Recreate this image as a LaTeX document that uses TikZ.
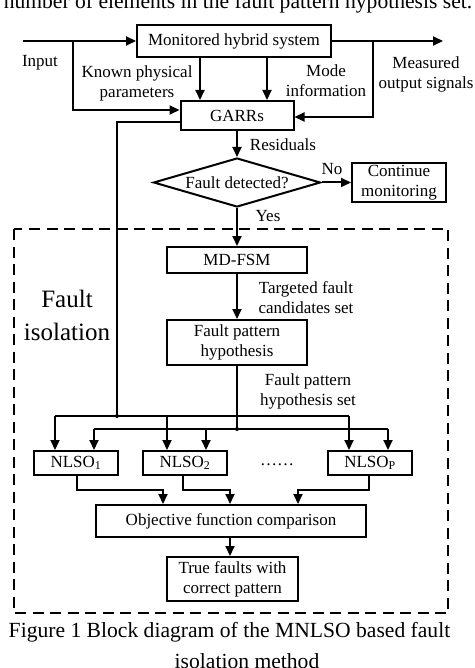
\documentclass[tikz,border=0pt]{standalone}
\usepackage{fontspec}
\setmainfont{Liberation Serif}
\usetikzlibrary{arrows.meta,shapes.geometric,calc}
\begin{document}
\begin{tikzpicture}[x=1pt,y=-1pt,
  every node/.style={font=\fontsize{17}{20}\selectfont, inner sep=0pt},
  box/.style={draw, line width=2pt, align=center},
  ln/.style={line width=2pt},
  arr/.style={line width=2pt, -{Triangle[length=10pt,width=9pt]}},
  lbl/.style={align=center},
  big/.style={font=\fontsize{21.6}{26}\selectfont}]
\useasboundingbox (0,0) rectangle (474,668);
\clip (0,0) rectangle (474,668);

% cut-off caption text at top
\node[big, anchor=base] (toptext) at (238,9) {number of elements in the fault pattern hypothesis set.};

% boxes
\node[box, minimum width=194pt, minimum height=32pt] (mhs) at (234,41) {Monitored hybrid system};
\node[box, minimum width=113pt, minimum height=29pt] (garrs) at (237,115.5) {GARRs};
\node[draw, diamond, aspect=3.4, line width=2pt, minimum width=167pt, minimum height=49pt] (fd) at (237,182.5) {Fault detected?};
\node[box, minimum width=94pt, minimum height=39pt] (cont) at (399,182.5) {Continue\\monitoring};
\node[box, minimum width=140pt, minimum height=26pt] (mdfsm) at (237,260) {MD-FSM};
\node[box, minimum width=140pt, minimum height=45pt] (fph) at (237,342.5) {Fault pattern\\hypothesis};
\node[box, minimum width=84pt, minimum height=24pt] (nlso1) at (76,463) {NLSO\textsubscript{1}};
\node[box, minimum width=84pt, minimum height=24pt] (nlso2) at (185,463) {NLSO\textsubscript{2}};
\node[box, minimum width=84pt, minimum height=24pt] (nlsop) at (370,463) {NLSO\textsubscript{P}};
\node[anchor=base] (dots) at (277,465) {……};
\node[box, minimum width=270pt, minimum height=32pt] (obj) at (231,521) {Objective function comparison};
\node[box, minimum width=131pt, minimum height=44pt] (tf) at (232.5,579) {True faults with\\correct pattern};

% dashed fault isolation region
\draw[line width=2.2pt, dash pattern=on 11pt off 6.5pt] (14,229) rectangle (448,613);
\node[lbl, font=\fontsize{25}{33}\selectfont] (fi) at (67,315) {Fault\\isolation};

% labels
\node (inlbl) at (40,62.7) {Input};
\node[lbl] (kpp) at (137,83) {Known physical\\parameters};
\node[lbl] (mode) at (326,80.5) {Mode\\information};
\node[lbl] (meas) at (426,74) {Measured\\output signals};
\node (res) at (283,145) {Residuals};
\node (no) at (332,169) {No};
\node (yes) at (268,216) {Yes};
\node[lbl] (tfc) at (306,297.5) {Targeted fault\\candidates set};
\node[lbl] (fphs) at (308,391) {Fault pattern\\hypothesis set};

% captions
\node[big, anchor=base] (cap1) at (229.5,637) {Figure 1 Block diagram of the MNLSO based fault};
\node[big, anchor=base] (cap2) at (247,668.5) {isolation method};

% coordinates
\coordinate (in) at (23,41);
\coordinate (out) at (443,41);
\coordinate (bi) at (73,41);
\coordinate (bo) at (373,41);
\coordinate (k1) at (200,0);
\coordinate (k2) at (267,0);
\coordinate (j1) at (117,416);
\coordinate (j2) at (237,429);
\coordinate (b1l) at (55,416);
\coordinate (b1m) at (167,416);
\coordinate (b1r) at (349,416);
\coordinate (b2l) at (94,429);
\coordinate (b2m) at (206,429);
\coordinate (b2r) at (388,429);
\coordinate (o1) at (77,490);
\coordinate (o2) at (183,490);
\coordinate (op) at (369,490);
\coordinate (p1) at (163,0);
\coordinate (p2) at (230,0);
\coordinate (pp) at (298,0);
\coordinate (k3) at (230,0);

% top part
\draw[arr] (in) -- (mhs.west);
\draw[arr] (mhs.east) -- (out);
\draw[arr] (bi) |- ([yshift=5.5pt]garrs.west);
\draw[arr] (bo) |- ([yshift=-1.5pt]garrs.east);
\draw[arr] (mhs.south -| k1) -- (garrs.north -| k1);
\draw[arr] (mhs.south -| k2) -- (garrs.north -| k2);
\draw[arr] (garrs.south) -- (fd.north);
\draw[arr] (fd.east) -- (cont.west);
\draw[arr] (fd.south) -- (mdfsm.north);
\draw[arr] (mdfsm.south) -- (fph.north);

% feed from GARRs
\draw[ln] ([yshift=-6.5pt]garrs.west) -| (j1);
\draw[ln] (b1l) -- (b1r);
\draw[arr] (b1l) -- (b1l |- nlso1.north);
\draw[arr] (b1m) -- (b1m |- nlso2.north);
\draw[arr] (b1r) -- (b1r |- nlsop.north);
\fill (j1) circle (2pt);

% hypothesis bus
\draw[ln] (fph.south) -- (j2);
\draw[ln] (b2l) -- (b2r);
\draw[arr] (b2l) -- (b2l |- nlso1.north);
\draw[arr] (b2m) -- (b2m |- nlso2.north);
\draw[arr] (b2r) -- (b2r |- nlsop.north);
\fill (j2) circle (2pt);

% outputs to objective
\draw[arr] (nlso1.south -| o1) -- (o1) -| (obj.north -| p1);
\draw[arr] (nlso2.south -| o2) -- (o2) -| (obj.north -| p2);
\draw[arr] (nlsop.south -| op) -- (op) -| (obj.north -| pp);
\draw[arr] (obj.south -| k3) -- (tf.north -| k3);
\end{tikzpicture}
\end{document}
